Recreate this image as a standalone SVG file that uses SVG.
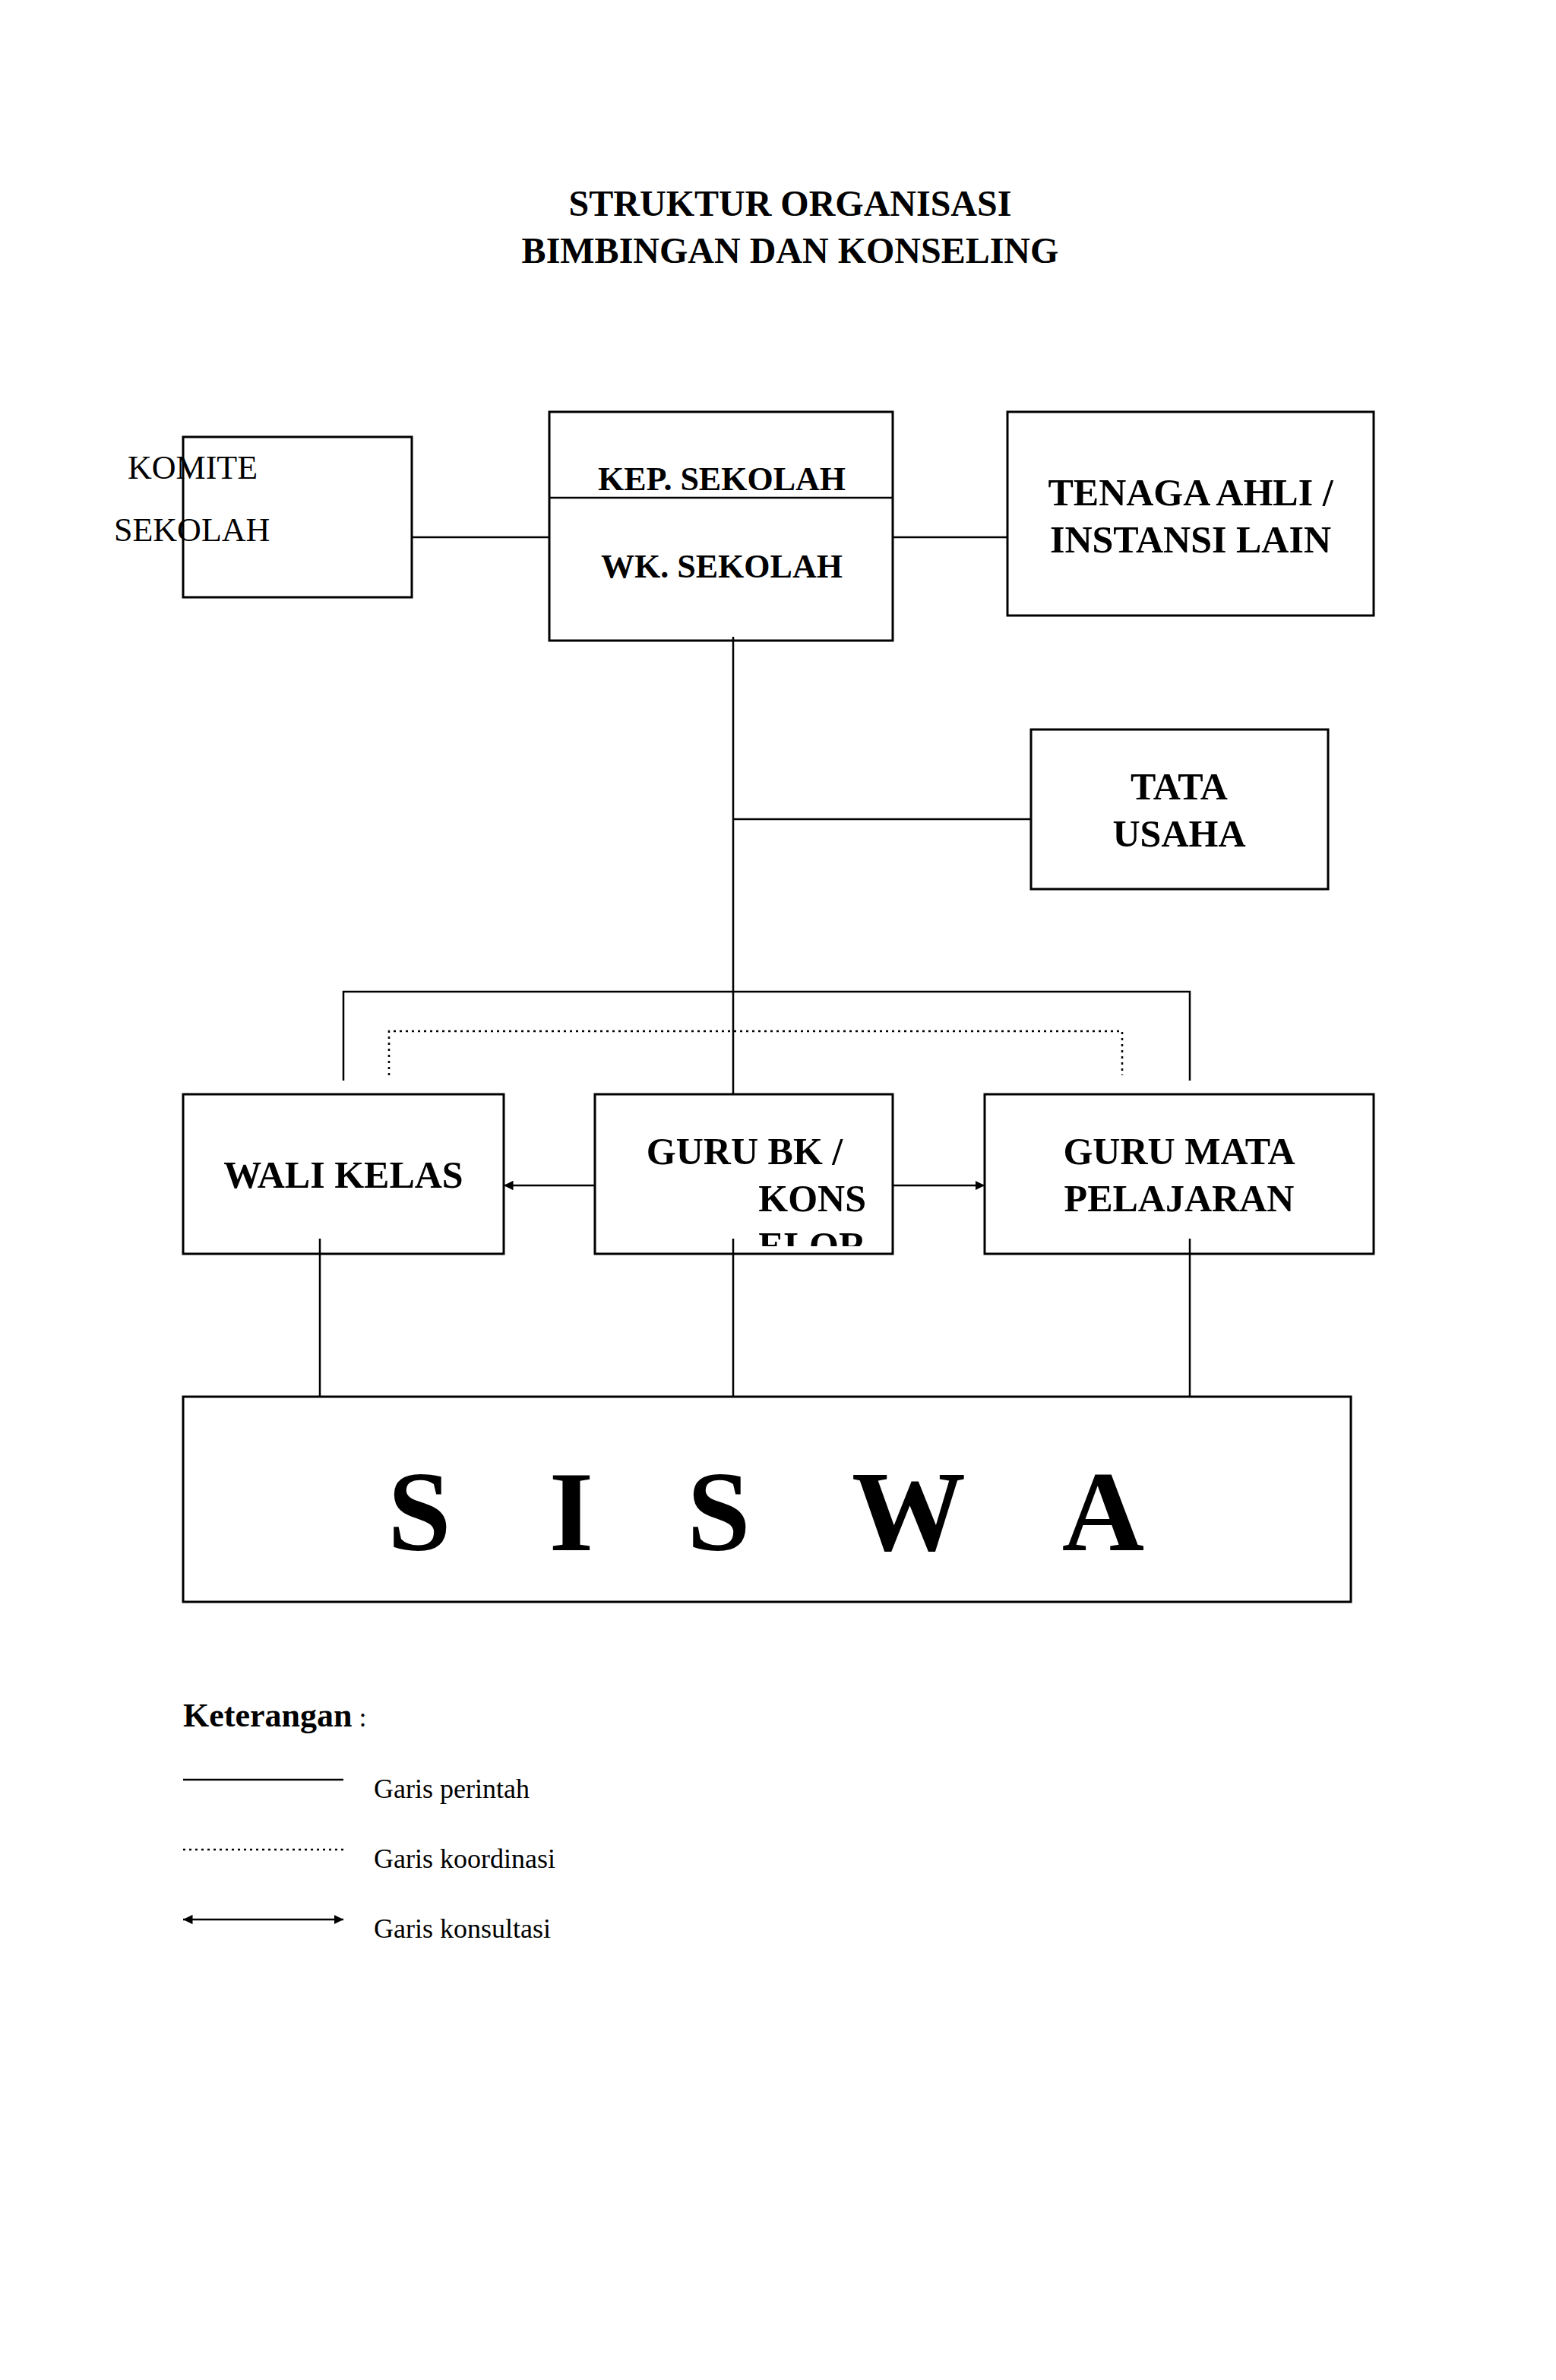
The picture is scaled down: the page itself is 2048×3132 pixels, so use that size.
<svg xmlns="http://www.w3.org/2000/svg" width="2048" height="3132" viewBox="0 0 2048 3132">
<style>
text{font-family:"Liberation Serif","Times New Roman",serif;fill:#000}
.b{font-weight:bold}
.box{fill:none;stroke:#000;stroke-width:3}
.ln{stroke:#000;stroke-width:2.5;fill:none}
.dot{stroke:#000;stroke-width:2.5;stroke-dasharray:3 5;fill:none}
</style>
<defs>
<marker id="ah" viewBox="0 0 10 10" refX="10" refY="5" markerWidth="5" markerHeight="5" orient="auto-start-reverse" markerUnits="strokeWidth"><path d="M0,0L10,5L0,10z" fill="#000"/></marker>
</defs>
<rect width="2048" height="3132" fill="#fff"/>
<text class="b" x="1040" y="284" font-size="48" text-anchor="middle">STRUKTUR ORGANISASI</text>
<text class="b" x="1040" y="346" font-size="48" text-anchor="middle">BIMBINGAN DAN KONSELING</text>
<g id="connectors">
<path class="ln" d="M542,707H723M1175,707H1326M965,838V1440M965,1078H1357M452,1422V1305H1566V1422M421,1630V1838M965,1630V1838M1566,1630V1838"/>
<path class="dot" d="M512,1415V1357H1477V1415"/>
<path class="ln" d="M663,1560H783M1175,1560H1296" marker-start="url(#ah)" marker-end="url(#ah)"/>
</g>
<g id="komite"><rect class="box" x="241" y="575" width="301" height="211"/>
<text x="168" y="630" font-size="44">KOMITE</text><text x="150" y="712" font-size="44">SEKOLAH</text></g>
<g id="kepsek"><rect class="box" x="723" y="542" width="452" height="301"/><path class="ln" d="M723,655H1175"/>
<text class="b" x="950" y="645" font-size="44" text-anchor="middle">KEP. SEKOLAH</text>
<text class="b" x="950" y="760" font-size="44" text-anchor="middle">WK. SEKOLAH</text></g>
<g id="tenaga"><rect class="box" x="1326" y="542" width="482" height="268"/>
<text class="b" x="1567" y="665" font-size="50" text-anchor="middle">TENAGA AHLI /</text>
<text class="b" x="1567" y="727" font-size="50" text-anchor="middle">INSTANSI LAIN</text></g>
<g id="tata"><rect class="box" x="1357" y="960" width="391" height="210"/>
<text class="b" x="1552" y="1052" font-size="50" text-anchor="middle">TATA</text>
<text class="b" x="1552" y="1114" font-size="50" text-anchor="middle">USAHA</text></g>
<g id="wali"><rect class="box" x="241" y="1440" width="422" height="210"/>
<text class="b" x="452" y="1563" font-size="50" text-anchor="middle">WALI KELAS</text></g>
<g id="gurubk"><rect class="box" x="783" y="1440" width="392" height="210"/>
<clipPath id="c1"><rect x="783" y="1440" width="392" height="200"/></clipPath>
<g clip-path="url(#c1)">
<text class="b" x="980" y="1532" font-size="50" text-anchor="middle">GURU BK /</text>
<text class="b" x="1140" y="1594" font-size="50" text-anchor="end">KONS</text>
<text class="b" x="1140" y="1656" font-size="50" text-anchor="end">ELOR</text></g></g>
<g id="gurumapel"><rect class="box" x="1296" y="1440" width="512" height="210"/>
<text class="b" x="1552" y="1532" font-size="50" text-anchor="middle">GURU MATA</text>
<text class="b" x="1552" y="1594" font-size="50" text-anchor="middle">PELAJARAN</text></g>
<g id="siswa"><rect class="box" x="241" y="1838" width="1537" height="270"/>
<g class="b" font-size="150" text-anchor="middle"><text x="552" y="2040">S</text><text x="752" y="2040">I</text><text x="946" y="2040">S</text><text x="1196" y="2040">W</text><text x="1452" y="2040">A</text></g></g>
<g id="legend">
<text x="241" y="2272" font-size="44"><tspan class="b">Keterangan</tspan><tspan font-size="36"> :</tspan></text>
<path class="ln" d="M241,2342H452"/>
<path class="dot" d="M241,2434H452"/>
<path class="ln" d="M241,2526H452" marker-start="url(#ah)" marker-end="url(#ah)"/>
<text x="492" y="2366" font-size="36">Garis perintah</text>
<text x="492" y="2458" font-size="36">Garis koordinasi</text>
<text x="492" y="2550" font-size="36">Garis konsultasi</text>
</g>
</svg>
